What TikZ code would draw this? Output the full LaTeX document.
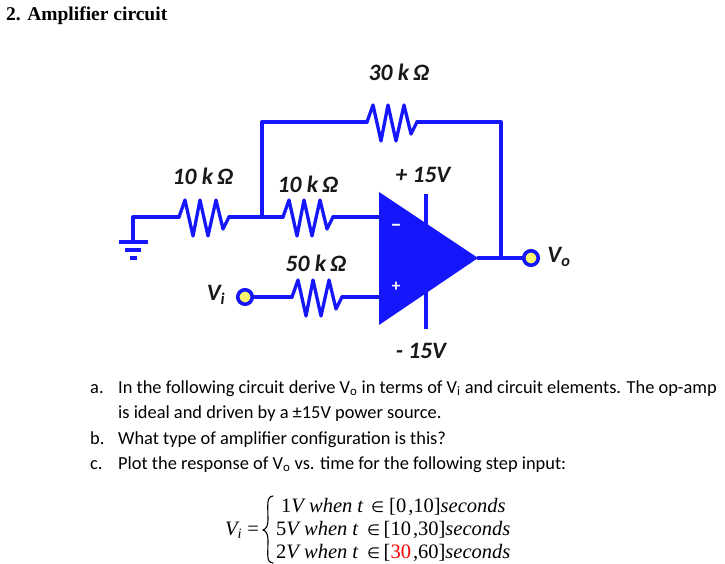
\documentclass[tikz,border=0pt]{standalone}
\usepackage{fontspec}
\setmainfont{Carlito}
\newfontfamily\headfont{Liberation Serif}
\newfontfamily\mathtext{Liberation Serif}
\newfontfamily\symfont{DejaVu Sans}
\definecolor{wire}{RGB}{22,22,250}
\definecolor{pin}{RGB}{250,245,110}
\newcommand{\elemof}{{\upshape\symfont\fontsize{15}{17}\selectfont ∈}}
\newcommand{\eqlead}[3]{\makebox[#1pt][l]{{\upshape #2}V when t}\makebox[#3pt][l]{\elemof}}
\tikzset{
  x=1pt,y=1pt,
  wireline/.style={draw=wire,line width=3.3pt,line join=round,line cap=round},
  terminal/.style={circle,draw=wire,fill=pin,line width=3.6pt,minimum size=14.5pt,inner sep=0pt},
  circlabel/.style={font=\bfseries\itshape\fontsize{23.5}{25}\selectfont,text=black!90,inner sep=0pt},
  body/.style={font=\fontsize{18.4}{20}\selectfont,anchor=base west,inner sep=0pt},
  eqn/.style={font=\mathtext\itshape\fontsize{20.5}{22}\selectfont,anchor=base west,inner sep=0pt},
  res/.pic={
    \coordinate (-in) at (0,0);
    \coordinate (-out) at (50,0);
    \draw[wireline] (0,0) -- (6,17) -- (14,-19) -- (21,17) -- (29,-19) -- (37,17) -- (44,-12) -- (50,0);
  }
}
\begin{document}
\begin{tikzpicture}
\useasboundingbox (0,0) rectangle (725,-564);
\fill[white] (0,0) rectangle (725,-564);
% title
\node[font=\headfont\bfseries\fontsize{19.5}{21}\selectfont,anchor=base west,inner sep=0pt] (title) at (6,-21) {2. Amplifier circuit};
% resistors
\pic (ra) at (179,-217) {res};
\pic (rb) at (283,-217) {res};
\pic (rc) at (292,-297) {res};
\pic (rf) at (367,-122) {res};
% op-amp
\coordinate (oa1) at (379,-192);
\coordinate (oa2) at (379,-325);
\coordinate (oat) at (478,-258);
\coordinate (vp) at (426,-194);
\coordinate (vpb) at (426,-225);
\coordinate (vn) at (426,-329);
\coordinate (vnb) at (426,-290);
\draw[wireline,line cap=butt] (vp) -- (vpb);
\draw[wireline,line cap=butt] (vn) -- (vnb);
\fill[wire] (oa1) -- (oat) -- (oa2) -- cycle;
\node[font=\bfseries\fontsize{22}{24}\selectfont,text=white,inner sep=0pt] (minus) at (396,-228) {–};
\node[font=\bfseries\fontsize{17}{19}\selectfont,text=white,inner sep=0pt] (plus) at (396,-287) {+};
% terminals
\coordinate (gnd) at (133,-242);
\coordinate (junc) at (262,-217);
\coordinate (fbtop) at (262,-122);
\coordinate (fbr) at (501,-122);
\coordinate (fbb) at (501,-258);
\coordinate (inn) at (379,-217);
\coordinate (inp) at (379,-297);
\draw[wireline] (gnd) |- (ra-in);
\draw[wireline,line cap=butt] (119,-242) -- (148,-242);
\draw[wireline,line cap=butt] (125,-250) -- (141,-250);
\draw[wireline,line cap=butt] (130,-258) -- (137,-258);
% wires
\draw[wireline] (ra-out) -- (rb-in);
\draw[wireline] (rb-out) -- (inn);
\draw[wireline] (junc) -- (fbtop) -- (rf-in);
\draw[wireline] (rf-out) -- (fbr) -- (fbb);
\draw[wireline] (oat) -- (522,-258);
\draw[wireline] (254,-297) -- (rc-in);
\draw[wireline] (rc-out) -- (inp);
\node[terminal] (vo) at (531,-258) {};
\node[terminal] (vi) at (245,-297) {};
% circuit labels
\node[circlabel] (l30) at (399,-72) {30 k$\,$Ω};
\node[circlabel] (l10a) at (203,-176) {10 k$\,$Ω};
\node[circlabel] (l10b) at (308,-184) {10 k$\,$Ω};
\node[circlabel] (l50) at (316,-263) {50 k$\,$Ω};
\node[circlabel] (lp) at (423,-175) {+ 15V};
\node[circlabel] (ln) at (421,-351) {- 15V};
\node[circlabel] (lvo) at (559,-257) {V\textsubscript{o}};
\node[circlabel] (lvi) at (216,-295) {V\textsubscript{i}};
% body text
\node[body] (ma) at (90,-393) {a.};
\node[body] (ta) at (118,-393) {In the following circuit derive V\textsubscript{o} in terms of V\textsubscript{i} and circuit elements. The op-amp};
\node[body] (ta2) at (118,-418) {is ideal and driven by a ±15V power source.};
\node[body] (mb) at (90,-444) {b.};
\node[body] (tb) at (118,-444) {What type of amplifier configuration is this?};
\node[body] (mc) at (90,-469) {c.};
\node[body] (tc) at (118,-469) {Plot the response of V\textsubscript{o} vs. time for the following step input:};
% equation
\node[eqn] (evi) at (225,-535) {V\textsubscript{i} {\upshape =}};
\draw[draw=black,line width=1.1pt,line cap=round] (273,-496) .. controls (266,-497) and (268,-505) .. (268,-520) .. controls (268,-526) and (266,-529) .. (263,-530) .. controls (266,-531) and (268,-534) .. (268,-540) .. controls (268,-556) and (266,-562) .. (273,-563);
\node[eqn] (e1) at (281,-512) {\eqlead{90}{1}{18}{\upshape [0\hspace{2pt},10]}seconds};
\node[eqn] (e2) at (276,-535) {\eqlead{91}{5}{16.5}{\upshape [10\hspace{2pt},30]}seconds};
\node[eqn] (e3) at (276,-558) {\eqlead{91}{2}{16.5}{\upshape [\textcolor{red}{30}\hspace{2pt},60]}seconds};
\end{tikzpicture}
\end{document}
